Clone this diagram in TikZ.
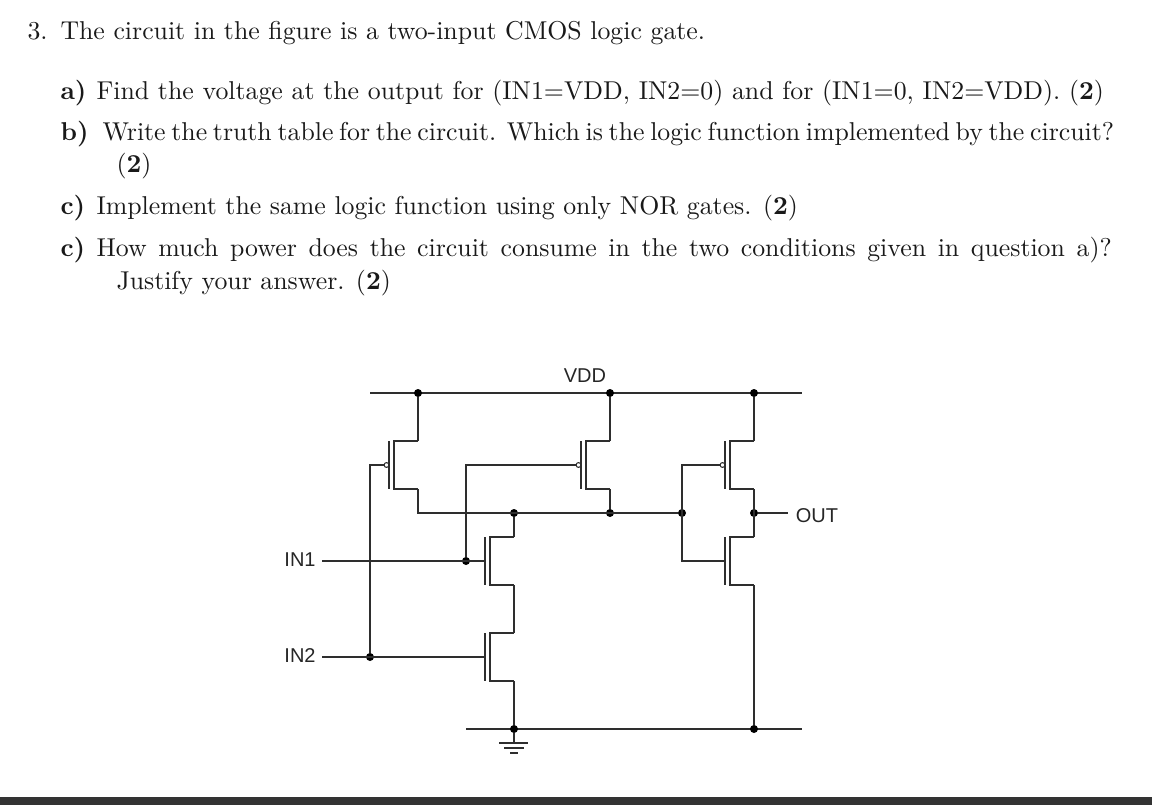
\documentclass[tikz,border=0pt]{standalone}
\usepackage{fontspec}
\newfontfamily\labelfont{Liberation Sans}
\usepackage{xcolor}
\definecolor{wirecol}{HTML}{2E2E2E}
\definecolor{barcol}{HTML}{333333}

\begin{document}
\begin{tikzpicture}[
    x=0.75pt,
    y=-0.75pt,
    wire/.style={draw=wirecol, line width=1.4pt},
    textline/.style={
        anchor=base west,
        inner sep=0pt,
        scale=1.935,
        text=black!90
    },
    label/.style={
        inner sep=0pt,
        font=\labelfont\fontsize{15}{17}\selectfont,
        text=black!85
    },
    dot/.style={
        circle,
        fill=black,
        inner sep=0pt,
        minimum size=6pt
    },
    nmos/.pic={
        \draw[wire] (-5,-24) -- (-5,24);
        \draw[wire] (24,-24) -- (0,-24) -- (0,24) -- (24,24);
        \coordinate (-top) at (24,-24);
        \coordinate (-bot) at (24,24);
        \coordinate (-gate) at (-5,0);
    },
    pmos/.pic={
        \draw[wire] (-5,-24) -- (-5,24);
        \draw[wire] (24,-24) -- (0,-24) -- (0,24) -- (24,24);
        \draw[draw=wirecol, line width=0.8pt, fill=white] (-7.5,0) circle (1.8pt);
        \coordinate (-top) at (24,-24);
        \coordinate (-bot) at (24,24);
        \coordinate (-gate) at (-10,0);
    }
]
\useasboundingbox (0,0) rectangle (1152,805);

% Bar along the bottom edge
\fill[barcol] (0,797) rectangle (1152,805);

% Question text
\node[textline] (num) at (27,40) {3.};
\node[textline] (title) at (60,40) {The circuit in the figure is a two-input CMOS logic gate.};

\node[textline] (a) at (60,100) {\textbf{a)}};
\node[textline] (atext) at (96,100) {\makebox[390.5pt][s]{Find the voltage at the output for (IN1=VDD, IN2=0) and for (IN1=0, IN2=VDD). (\textbf{2})}};

\node[textline] (b) at (60,141) {\textbf{b)}};
\node[textline] (btext) at (102,141) {\makebox[391.5pt][s]{Write the truth table for the circuit. Which is the logic function implemented by the circuit?}};
\node[textline] (bmark) at (116,173) {(\textbf{2})};

\node[textline] (c) at (60,215) {\textbf{c)}};
\node[textline] (ctext) at (96,215) {Implement the same logic function using only NOR gates. (\textbf{2})};

\node[textline] (d) at (60,257) {\textbf{c)}};
\node[textline] (dtext) at (96,257) {\makebox[393.5pt][s]{How much power does the circuit consume in the two conditions given in question a)?}};
\node[textline] (dmore) at (116,290) {Justify your answer. (\textbf{2})};

% Rails
\coordinate (vddl) at (370,393);
\coordinate (vddr) at (802,393);
\coordinate (gndl) at (466,729);
\coordinate (gndr) at (802,729);
\draw[wire] (vddl) -- (vddr);
\draw[wire] (gndl) -- (gndr);

% Transistors
\pic (p1) at (394,465) {pmos};
\pic (p2) at (586,465) {pmos};
\pic (p3) at (730,465) {pmos};
\pic (n1) at (490,561) {nmos};
\pic (n2) at (490,657) {nmos};
\pic (n3) at (730,561) {nmos};

% Junctions
\node[dot] (vdd1) at (418,393) {};
\node[dot] (vdd2) at (610,393) {};
\node[dot] (vdd3) at (754,393) {};
\node[dot] (mid1) at (514,513) {};
\node[dot] (mid2) at (610,513) {};
\node[dot] (mid3) at (682,513) {};
\node[dot] (outj) at (754,513) {};
\node[dot] (in1j) at (466,561) {};
\node[dot] (in2j) at (370,657) {};
\node[dot] (gnd1) at (514,729) {};
\node[dot] (gnd2) at (754,729) {};

% Labels
\node[label] (vddlab) at (585,376) {VDD};
\node[label] (in1lab) at (300,560) {IN1};
\node[label] (in2lab) at (300,656) {IN2};
\node[label] (outlab) at (817,516) {OUT};

% Free wire ends
\coordinate (in1w) at (322,561);
\coordinate (in2w) at (322,657);
\coordinate (outw) at (788,513);

% Supply and output connections
\draw[wire] (vdd1) -- (p1-top);
\draw[wire] (vdd2) -- (p2-top);
\draw[wire] (vdd3) -- (p3-top);
\draw[wire] (p1-bot) -- (p1-bot |- mid3) -- (mid3);
\draw[wire] (p2-bot) -- (mid2);
\draw[wire] (n1-top) -- (mid1);
\draw[wire] (p3-bot) -- (n3-top);
\draw[wire] (outj) -- (outw);
\draw[wire] (n1-bot) -- (n2-top);
\draw[wire] (n2-bot) -- (gnd1);
\draw[wire] (n3-bot) -- (gnd2);

% Gate connections
\draw[wire] (p1-gate) -- (p1-gate -| in2j) -- (in2j);
\draw[wire] (p2-gate) -- (p2-gate -| in1j) -- (in1j);
\draw[wire] (p3-gate) -- (p3-gate -| mid3) -- (n3-gate -| mid3) -- (n3-gate);
\draw[wire] (in1w) -- (n1-gate);
\draw[wire] (in2w) -- (n2-gate);

% Ground symbol
\coordinate (gndt) at (514,743);
\draw[wire] (gnd1) -- (gndt);
\draw[wire] (499,743) -- (528,743);
\draw[wire] (504,748) -- (524,748);
\draw[wire] (510,753) -- (518,753);

\end{tikzpicture}
\end{document}
